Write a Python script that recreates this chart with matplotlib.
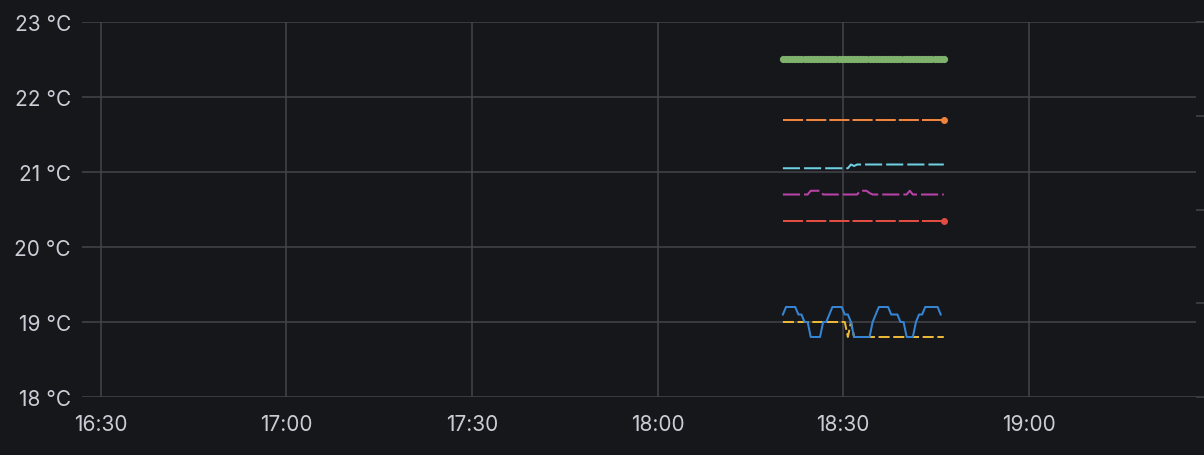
import matplotlib
matplotlib.use("Agg")
import matplotlib.pyplot as plt
import matplotlib.dates as mdates
import pandas as pd
import numpy as np

# ---------------- data ----------------
sample_times = pd.date_range("2022-01-01 18:20:15", periods=53, freq="30s")

green_vals = [22.5, 22.5, 22.5, 22.5, 22.5, 22.5, 22.5, 22.5, 22.5, 22.5,
              22.5, 22.5, 22.5, 22.5, 22.5, 22.5, 22.5, 22.5, 22.5, 22.5,
              22.5, 22.5, 22.5, 22.5, 22.5, 22.5, 22.5, 22.5, 22.5, 22.5,
              22.5, 22.5, 22.5, 22.5, 22.5, 22.5, 22.5, 22.5, 22.5, 22.5,
              22.5, 22.5, 22.5, 22.5, 22.5, 22.5, 22.5, 22.5, 22.5, 22.5,
              22.5, 22.5, 22.5]

orange_vals = [21.7, 21.7, 21.7, 21.7, 21.7, 21.7, 21.7, 21.7, 21.7, 21.7,
               21.7, 21.7, 21.7, 21.7, 21.7, 21.7, 21.7, 21.7, 21.7, 21.7,
               21.7, 21.7, 21.7, 21.7, 21.7, 21.7, 21.7, 21.7, 21.7, 21.7,
               21.7, 21.7, 21.7, 21.7, 21.7, 21.7, 21.7, 21.7, 21.7, 21.7,
               21.7, 21.7, 21.7, 21.7, 21.7, 21.7, 21.7, 21.7, 21.7, 21.7,
               21.7, 21.7, 21.7]

cyan_vals = [21.05, 21.05, 21.05, 21.05, 21.05, 21.05, 21.05, 21.05, 21.05, 21.05,
             21.05, 21.05, 21.05, 21.05, 21.05, 21.05, 21.05, 21.05, 21.05, 21.05,
             21.05, 21.05, 21.1, 21.08, 21.1, 21.1, 21.1, 21.1, 21.1, 21.1,
             21.1, 21.1, 21.1, 21.1, 21.1, 21.1, 21.1, 21.1, 21.1, 21.1,
             21.1, 21.1, 21.1, 21.1, 21.1, 21.1, 21.1, 21.1, 21.1, 21.1,
             21.1, 21.1, 21.1]

magenta_vals = [20.7, 20.7, 20.7, 20.7, 20.7, 20.7, 20.7, 20.7, 20.7, 20.75,
                20.75, 20.75, 20.75, 20.7, 20.7, 20.7, 20.7, 20.7, 20.7, 20.7,
                20.7, 20.7, 20.7, 20.7, 20.7, 20.75, 20.75, 20.75, 20.72, 20.7,
                20.7, 20.7, 20.7, 20.7, 20.7, 20.7, 20.7, 20.7, 20.7, 20.7,
                20.7, 20.75, 20.7, 20.7, 20.7, 20.7, 20.7, 20.7, 20.7, 20.7,
                20.7, 20.7, 20.7]

red_vals = [20.35, 20.35, 20.35, 20.35, 20.35, 20.35, 20.35, 20.35, 20.35, 20.35,
            20.35, 20.35, 20.35, 20.35, 20.35, 20.35, 20.35, 20.35, 20.35, 20.35,
            20.35, 20.35, 20.35, 20.35, 20.35, 20.35, 20.35, 20.35, 20.35, 20.35,
            20.35, 20.35, 20.35, 20.35, 20.35, 20.35, 20.35, 20.35, 20.35, 20.35,
            20.35, 20.35, 20.35, 20.35, 20.35, 20.35, 20.35, 20.35, 20.35, 20.35,
            20.35, 20.35, 20.35]

blue_vals = [19.1, 19.2, 19.2, 19.2, 19.2, 19.1, 19.1, 19.0, 19.0, 18.8,
             18.8, 18.8, 18.8, 19.0, 19.0, 19.1, 19.2, 19.2, 19.2, 19.2,
             19.1, 19.1, 19.0, 18.8, 18.8, 18.8, 18.8, 18.8, 18.8, 19.0,
             19.1, 19.2, 19.2, 19.2, 19.2, 19.1, 19.1, 19.1, 19.0, 19.0,
             18.8, 18.8, 18.8, 19.0, 19.1, 19.1, 19.2, 19.2, 19.2, 19.2,
             19.2, 19.1, np.nan]

yellow_vals = [19.0, 19.0, 19.0, 19.0, 19.0, 19.0, 19.0, 19.0, 19.0, 19.0,
               19.0, 19.0, 19.0, 19.0, 19.0, 19.0, 19.0, 19.0, 19.0, 19.0,
               19.0, 18.8, 19.0, 18.8, 18.8, 18.8, 18.8, 18.8, 18.8, 18.8,
               18.8, 18.8, 18.8, 18.8, 18.8, 18.8, 18.8, 18.8, 18.8, 18.8,
               18.8, 18.8, 18.8, 18.8, 18.8, 18.8, 18.8, 18.8, 18.8, 18.8,
               18.8, 18.8, 18.8]

x_ticks = ["2022-01-01 16:30", "2022-01-01 17:00", "2022-01-01 17:30",
           "2022-01-01 18:00", "2022-01-01 18:30", "2022-01-01 19:00"]
x_range = ["2022-01-01 16:27:00", "2022-01-01 19:27:00"]
y_ticks = [18, 19, 20, 21, 22, 23]

# ---------------- style ----------------
BG = "#16171b"
GRID = "#44454a"
TEXT = "#ccccd6"
plt.rcParams['font.family'] = ['Inter', 'DejaVu Sans']

fig = plt.figure(figsize=(12.04, 4.56), dpi=100, facecolor=BG)
W, H = 1204, 456
ax = fig.add_axes([82 / W, (H - 398) / H, (1196 - 82) / W, (398 - 23) / H])
ax.set_facecolor(BG)

lw = 1.45
ax.plot(sample_times, green_vals, color="#7EB26D", lw=lw, marker="o",
        markersize=5.2, markeredgewidth=0, zorder=5)
ax.plot(sample_times, orange_vals, color="#EF843C", lw=lw, dashes=(10, 1.5),
        marker="o", markersize=5, markeredgewidth=0, markevery=[-1], zorder=4)
ax.plot(sample_times, cyan_vals, color="#6ED0E0", lw=lw, dashes=(8.5, 2), zorder=4)
ax.plot(sample_times, magenta_vals, color="#BA43A9", lw=lw, dashes=(8.5, 2), zorder=4)
ax.plot(sample_times, red_vals, color="#E24D42", lw=lw, dashes=(10, 1.5),
        marker="o", markersize=5, markeredgewidth=0, markevery=[-1], zorder=4)
ax.plot(sample_times, yellow_vals, color="#EAB839", lw=lw, dashes=(5.5, 1.8), zorder=3)
ax.plot(sample_times, blue_vals, color="#3585d4", lw=lw, zorder=4)

ax.set_xlim(pd.Timestamp(x_range[0]), pd.Timestamp(x_range[1]))
ax.set_ylim(18, 23)
ax.set_xticks([pd.Timestamp(t) for t in x_ticks])
ax.xaxis.set_major_formatter(mdates.DateFormatter("%H:%M"))
ax.set_yticks(y_ticks)
ax.set_yticklabels([f"{v} °C" for v in y_ticks])

ax.grid(True, color=GRID, lw=1.1)
ax.set_axisbelow(True)
for s in ax.spines.values():
    s.set_visible(False)
ax.tick_params(axis="both", length=0, labelsize=15, colors=TEXT)
ax.tick_params(axis="y", pad=8)
ax.tick_params(axis="x", pad=12)

# secondary right axis (tick marks only)
ax2 = ax.twinx()
ax2.set_ylim(0, 4)
ax2.set_yticks([0, 1, 2, 3, 4])
for s in ax2.spines.values():
    s.set_visible(False)
ax2.tick_params(axis="y", length=10, width=1.1, color=GRID, pad=0.5,
                labelright=False, direction="out")

fig.savefig("out.png", dpi=100, facecolor=BG)
